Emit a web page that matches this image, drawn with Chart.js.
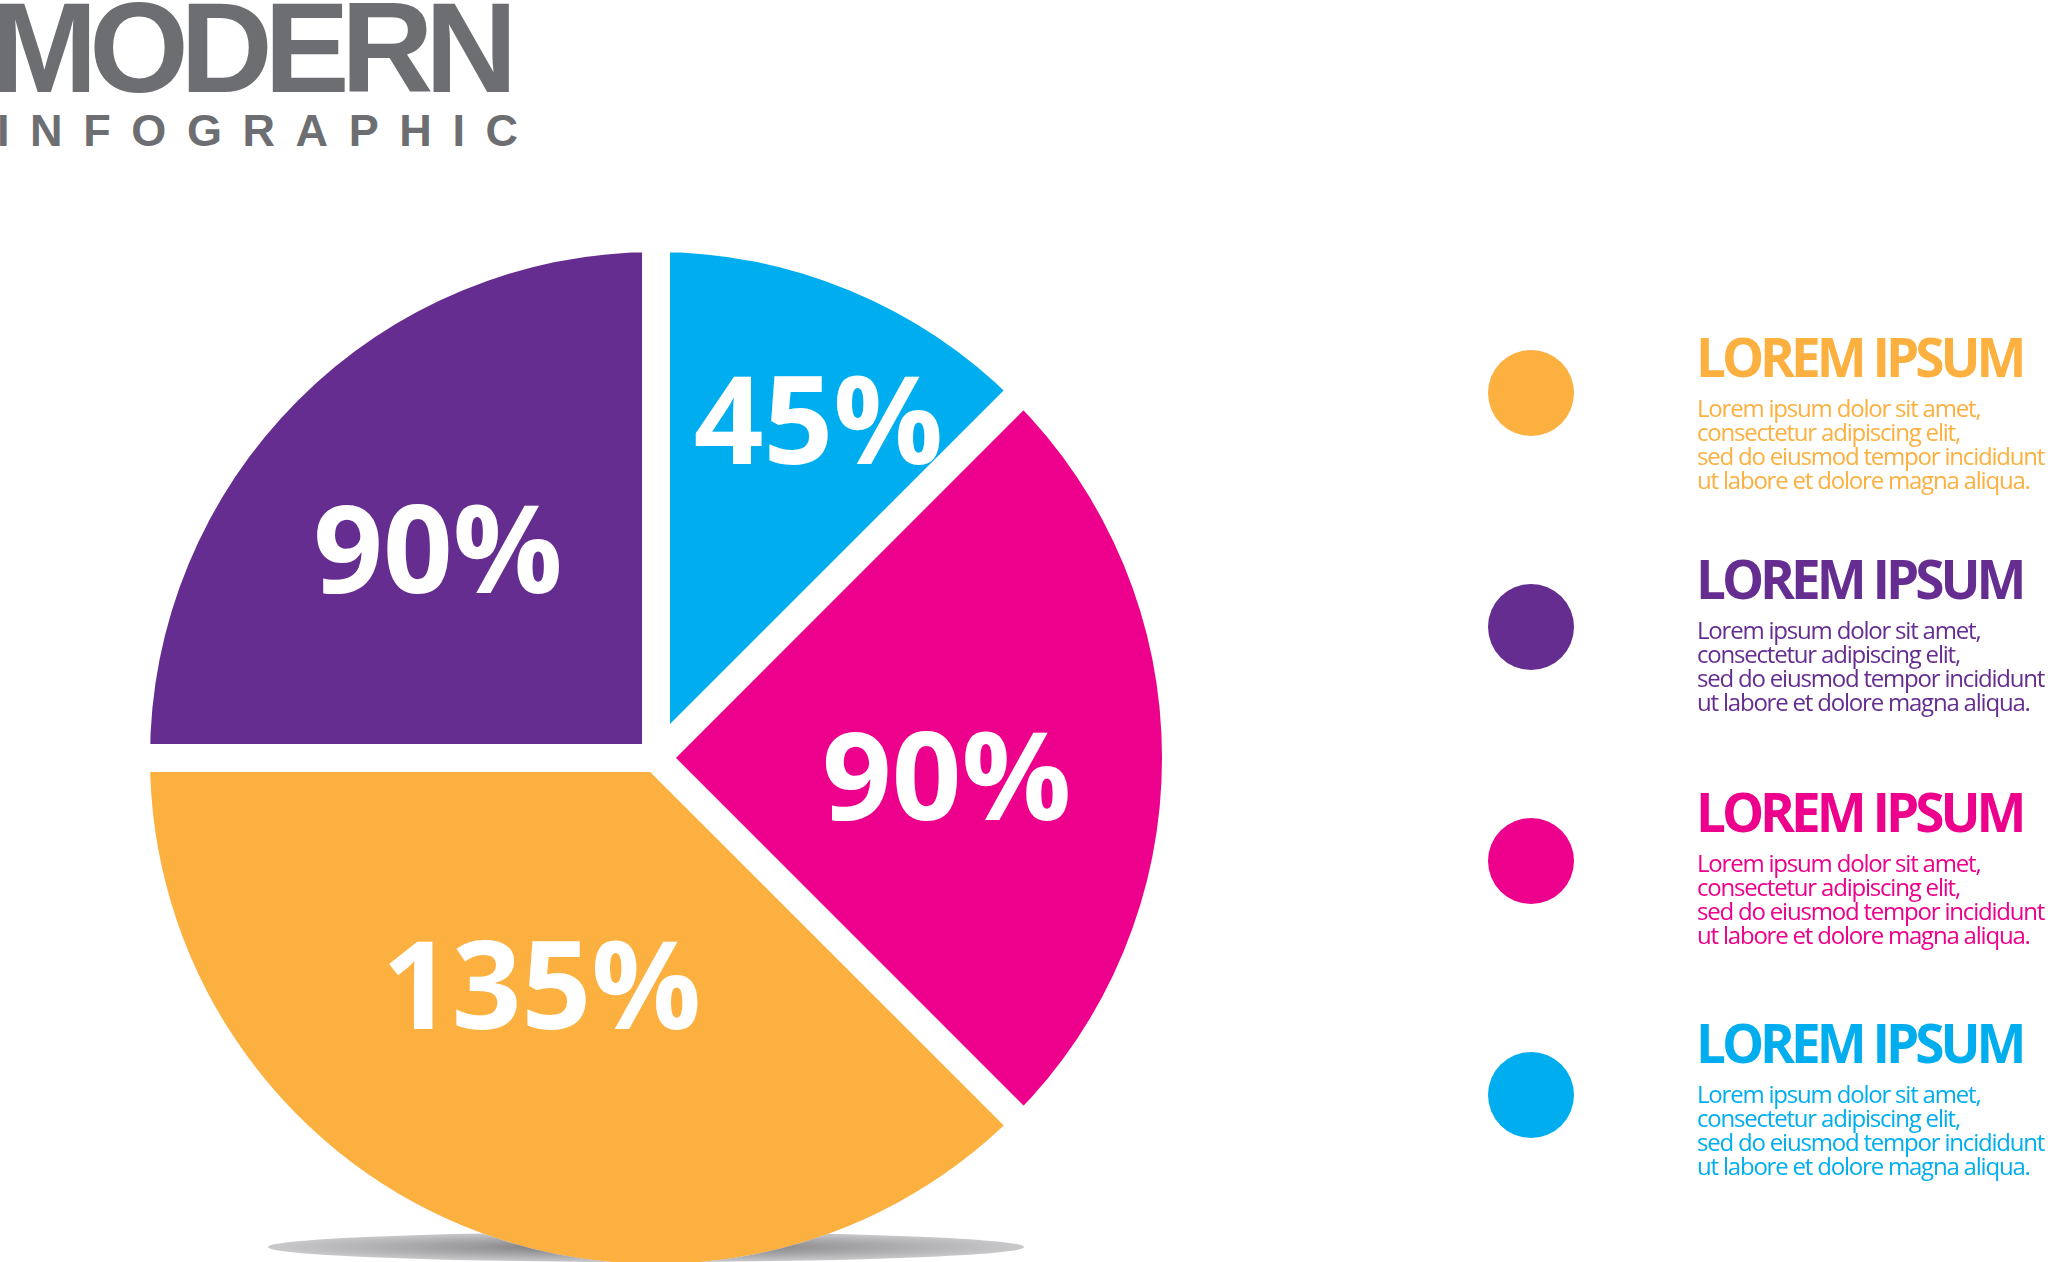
<!DOCTYPE html>
<html>
<head>
<meta charset="utf-8">
<title>Modern Infographic</title>
<script src="https://cdn.jsdelivr.net/npm/chart.js@4.4.1/dist/chart.umd.min.js"></script>
<style>
    html, body {
        margin: 0;
        padding: 0;
        width: 2048px;
        height: 1262px;
        overflow: hidden;
        background: #ffffff;
    }
    .title {
        position: absolute;
        left: -9px;
        top: -16px;
        font-family: "Liberation Sans", Arial, sans-serif;
        font-weight: bold;
        font-size: 128px;
        line-height: 128px;
        letter-spacing: -8.5px;
        color: #6d6e71;
        white-space: nowrap;
    }
    .subtitle {
        position: absolute;
        left: -3px;
        top: 108px;
        font-family: "Liberation Sans", Arial, sans-serif;
        font-weight: bold;
        font-size: 45px;
        line-height: 45px;
        letter-spacing: 20.6px;
        color: #6d6e71;
        white-space: nowrap;
    }
    #pie-box {
        position: absolute;
        left: 106px;
        top: 208px;
        width: 1100px;
        height: 1100px;
    }
    .item {
        position: absolute;
        left: 0;
        width: 2048px;
        height: 200px;
    }
    .dot {
        position: absolute;
        left: 1488px;
        width: 86px;
        height: 86px;
        border-radius: 50%;
    }
    .item h2 {
        position: absolute;
        left: 1696px;
        margin: 0;
        font-family: "Open Sans", sans-serif;
        font-weight: bold;
        font-size: 53px;
        line-height: 53px;
        letter-spacing: -4px;
        white-space: nowrap;
    }
    .item p {
        position: absolute;
        left: 1697px;
        margin: 0;
        font-family: "Open Sans", sans-serif;
        font-size: 24px;
        line-height: 24px;
        letter-spacing: -1.2px;
        white-space: nowrap;
    }
</style>
</head>
<body>
<div class="title">MODERN</div>
<div class="subtitle">INFOGRAPHIC</div>
<div id="pie-box"><canvas id="pieChart"></canvas></div>
<div id="legend"></div>

<script>
// slices go clockwise from 12 o'clock
const categories = ['LOREM IPSUM', 'LOREM IPSUM', 'LOREM IPSUM', 'LOREM IPSUM'];
const values = [45, 90, 135, 90];
const valueLabels = ['45%', '90%', '135%', '90%'];
const colors = ['#00aeef', '#ec008c', '#fbb040', '#662d91'];
// legend on the right is listed orange, purple, magenta, cyan
const legendOrder = [2, 3, 1, 0];
const legendLines = [
    'Lorem ipsum dolor sit amet,',
    'consectetur adipiscing elit,',
    'sed do eiusmod tempor incididunt',
    'ut labore et dolore magna aliqua.'
];

function buildLegend() {
    const legend = document.getElementById('legend');
    const textNudge = [16, 4, 3, 0]; // the first text block sits a bit lower
    legendOrder.forEach((idx, i) => {
        const dotY = 393 + 234 * i;
        const t = 100 + textNudge[i];
        const item = document.createElement('div');
        item.className = 'item';
        item.style.top = (dotY - 100) + 'px';
        item.style.color = colors[idx];
        item.innerHTML = `
            <div class="dot" style="top:${100 - 43}px;background:${colors[idx]}"></div>
            <h2 style="top:${t - 70 - 9}px">${categories[idx]}</h2>
            <p style="top:${t + 8 - 21}px">${legendLines.join('<br>')}</p>
        `;
        legend.appendChild(item);
    });
}

// soft grey shadow under the pie, kept out of the pie's visible disc
const shadowPlugin = {
    id: 'pieShadow',
    afterDatasetsDraw(chart) {
        const meta = chart.getDatasetMeta(0);
        const arc = meta.data[0];
        if (!arc) return;
        const visibleR = arc.outerRadius - arc.options.borderWidth / 2;
        const cx = arc.x - 10;
        const cy = arc.y + 489;
        const rx = 378;
        const ry = 15;
        const ctx = chart.ctx;
        ctx.save();
        ctx.beginPath();
        ctx.rect(0, 0, chart.width, chart.height);
        ctx.arc(arc.x, arc.y, visibleR, 0, Math.PI * 2, true);
        ctx.clip('evenodd');
        ctx.translate(cx, cy);
        ctx.scale(1, ry / rx);
        const g = ctx.createRadialGradient(0, 0, 0, 0, 0, rx);
        g.addColorStop(0, '#5e5e60');
        g.addColorStop(0.45, '#9a9a9c');
        g.addColorStop(1, '#c9c9cb');
        ctx.fillStyle = g;
        ctx.beginPath();
        ctx.arc(0, 0, rx, 0, Math.PI * 2);
        ctx.fill();
        ctx.restore();
    }
};

// white value text inside each slice
const sliceLabelPlugin = {
    id: 'sliceLabels',
    afterDatasetsDraw(chart, args, opts) {
        const ctx = chart.ctx;
        const meta = chart.getDatasetMeta(0);
        ctx.save();
        ctx.fillStyle = '#ffffff';
        ctx.font = 'bold 122px "Open Sans"';
        ctx.textAlign = 'center';
        ctx.textBaseline = 'alphabetic';
        meta.data.forEach((arc, i) => {
            const mid = (arc.startAngle + arc.endAngle) / 2 + opts.turn[i] * Math.PI / 180;
            const d = arc.outerRadius * opts.dist[i];
            const x = arc.x + Math.cos(mid) * d;
            const y = arc.y + Math.sin(mid) * d;
            ctx.fillText(valueLabels[i], x, y + 43);
        });
        ctx.restore();
    }
};

function createChart() {
    const ctx = document.getElementById('pieChart').getContext('2d');
    new Chart(ctx, {
        type: 'pie',
        data: {
            labels: valueLabels,
            datasets: [{
                data: values,
                backgroundColor: colors,
                borderColor: '#ffffff',
                borderWidth: 28,
                borderJoinStyle: 'miter'
            }]
        },
        options: {
            responsive: true,
            maintainAspectRatio: false,
            animation: false,
            events: [],
            radius: 520,
            layout: { padding: 0 },
            plugins: {
                legend: { display: false },
                tooltip: { enabled: false },
                sliceLabels: {
                    dist: [0.72, 0.56, 0.49, 0.58],
                    turn: [3.2, 3.7, 4.2, -1.3]
                }
            }
        },
        plugins: [shadowPlugin, sliceLabelPlugin]
    });
}

buildLegend();
createChart();
</script>
</body>
</html>
